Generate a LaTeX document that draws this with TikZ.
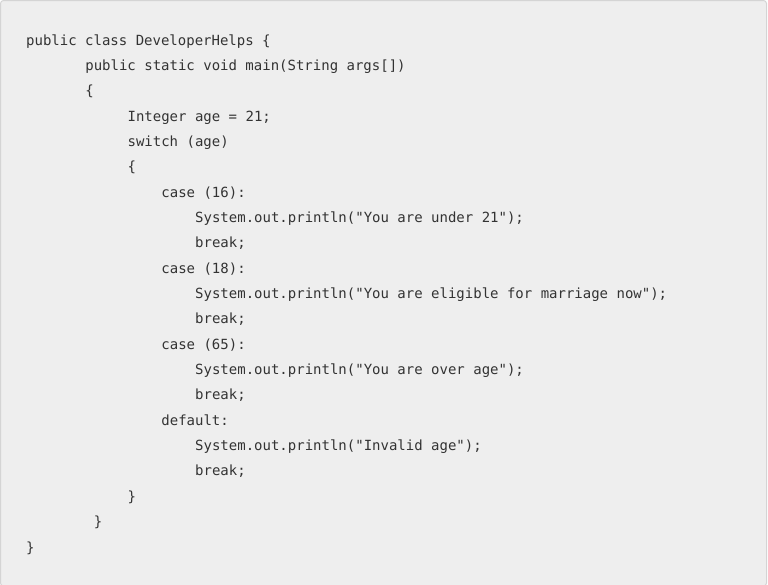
\documentclass[tikz,border=0pt]{standalone}
\usepackage{fontspec}
\setmonofont{DejaVu Sans Mono}
\definecolor{bg}{HTML}{EEEEEE}
\definecolor{frame}{HTML}{D4D4D4}
\definecolor{code}{HTML}{333333}
\tikzset{
  codeline/.style={anchor=base west, inner sep=0pt, text=code, font=\ttfamily\fontsize{14pt}{16pt}\selectfont}
}
\begin{document}
\begin{tikzpicture}[x=1pt,y=-1pt]
\useasboundingbox (0,0) rectangle (768,584);
\draw[frame, fill=bg, rounded corners=3pt, line width=1pt] (0.5,0.5) rectangle (766.5,586);
\def\ch{8.45}
\def\lh{25.35}
\node[codeline] (l1)  at (26+0*\ch, 45+0*\lh)  {public class DeveloperHelps \{};
\node[codeline] (l2)  at (26+7*\ch, 45+1*\lh)  {public static void main(String args[])};
\node[codeline] (l3)  at (26+7*\ch, 45+2*\lh)  {\{};
\node[codeline] (l4)  at (26+12*\ch, 45+3*\lh) {Integer age = 21;};
\node[codeline] (l5)  at (26+12*\ch, 45+4*\lh) {switch (age)};
\node[codeline] (l6)  at (26+12*\ch, 45+5*\lh) {\{};
\node[codeline] (l7)  at (26+16*\ch, 45+6*\lh) {case (16):};
\node[codeline] (l8)  at (26+20*\ch, 45+7*\lh) {System.out.println("You are under 21");};
\node[codeline] (l9)  at (26+20*\ch, 45+8*\lh) {break;};
\node[codeline] (l10) at (26+16*\ch, 45+9*\lh) {case (18):};
\node[codeline] (l11) at (26+20*\ch, 45+10*\lh) {System.out.println("You are eligible for marriage now");};
\node[codeline] (l12) at (26+20*\ch, 45+11*\lh) {break;};
\node[codeline] (l13) at (26+16*\ch, 45+12*\lh) {case (65):};
\node[codeline] (l14) at (26+20*\ch, 45+13*\lh) {System.out.println("You are over age");};
\node[codeline] (l15) at (26+20*\ch, 45+14*\lh) {break;};
\node[codeline] (l16) at (26+16*\ch, 45+15*\lh) {default:};
\node[codeline] (l17) at (26+20*\ch, 45+16*\lh) {System.out.println("Invalid age");};
\node[codeline] (l18) at (26+20*\ch, 45+17*\lh) {break;};
\node[codeline] (l19) at (26+12*\ch, 45+18*\lh) {\}};
\node[codeline] (l20) at (26+8*\ch, 45+19*\lh)  {\}};
\node[codeline] (l21) at (26+0*\ch, 45+20*\lh)  {\}};
\end{tikzpicture}
\end{document}
